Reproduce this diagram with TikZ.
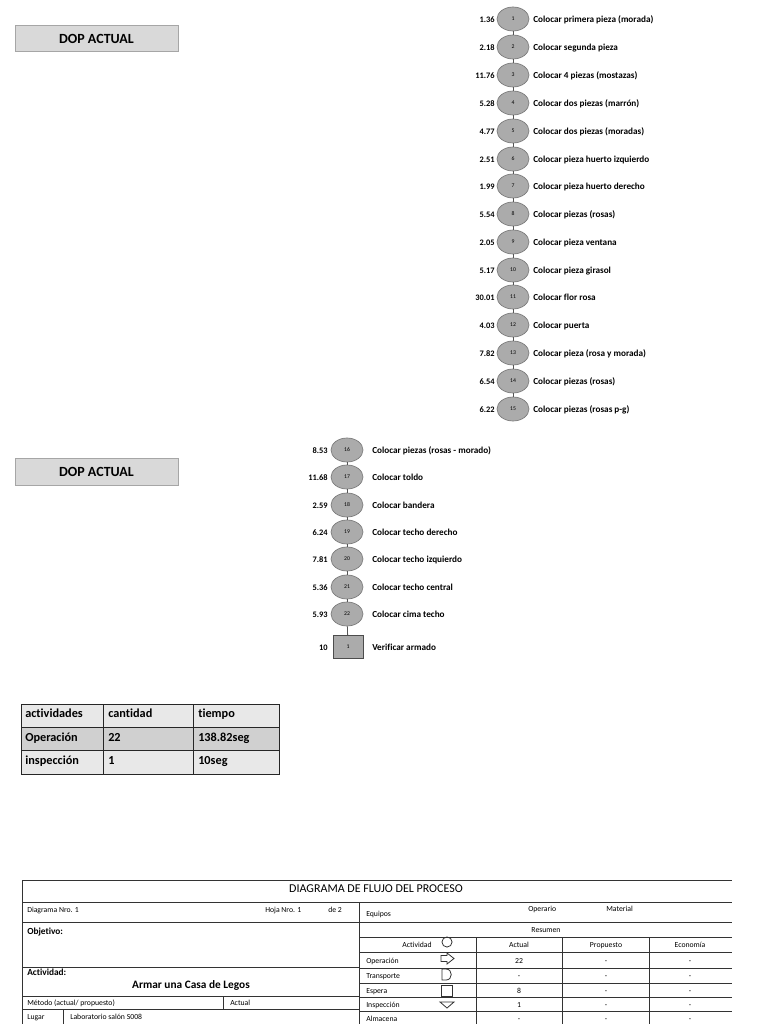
\documentclass[tikz,border=0pt]{standalone}
\usepackage{fontspec}
\setmainfont[Ligatures=NoCommon]{Carlito}
\usetikzlibrary{shapes.geometric}
\definecolor{opfill}{HTML}{ABABAB}
\definecolor{opdraw}{HTML}{7A7A7A}
\definecolor{linegray}{HTML}{555555}
\definecolor{dopfill}{HTML}{D9D9D9}
\definecolor{dopdraw}{HTML}{A6A6A6}
\definecolor{tablight}{HTML}{E8E8E8}
\definecolor{tabdark}{HTML}{D0D0D0}
\tikzset{
  even/.style={text height=0.72em, text depth=0.22em},
  opell/.style={ellipse, draw=opdraw, fill=opfill, line width=0.5pt, minimum width=24pt, minimum height=18pt, inner sep=0pt, font=\fontsize{4.3}{5}\selectfont},
  insbox/.style={rectangle, draw=black!70, fill=opfill, line width=0.6pt, minimum width=22.5pt, minimum height=17.5pt, inner sep=0pt, font=\fontsize{4.3}{5}\selectfont},
  chainline/.style={draw=linegray, line width=0.6pt},
  numlab/.style={anchor=east, inner sep=0pt, even, font=\fontsize{6.3}{7}\selectfont\bfseries},
  steplab/.style={anchor=west, inner sep=0pt, even, font=\fontsize{6.9}{8}\selectfont\bfseries},
  dopbox/.style={rectangle, draw=dopdraw, fill=dopfill, line width=0.5pt, minimum width=122pt, minimum height=20pt, inner sep=0pt, font=\fontsize{10.5}{12}\selectfont\bfseries},
  tabline/.style={draw=black!85, line width=0.7pt},
  tabtxt/.style={anchor=west, inner sep=0pt, even, font=\fontsize{9.2}{11}\selectfont\bfseries},
  formline/.style={draw=black!80, line width=0.5pt},
  ftxt/.style={anchor=west, inner sep=0pt, even, font=\fontsize{5.8}{7}\selectfont},
  fctr/.style={inner sep=0pt, even, font=\fontsize{5.8}{7}\selectfont},
  fbold/.style={anchor=west, inner sep=0pt, even, font=\fontsize{7}{8}\selectfont\bfseries},
  sym/.style={draw=black!80, line width=0.6pt}
}
\begin{document}
\begin{tikzpicture}[x=0.75pt,y=-0.75pt]
\useasboundingbox (0,0) rectangle (768,1024);
\fill[white] (0,0) rectangle (768,1024);

% DOP ACTUAL boxes
\node[dopbox] (dop1) at (96.5,38.5) {DOP ACTUAL};
\node[dopbox] (dop2) at (96.5,471.5) {DOP ACTUAL};

% first chain
\foreach \i/\yy/\d/\t in {
 1/19/1.36/Colocar primera pieza (morada),
 2/47/2.18/Colocar segunda pieza,
 3/75/11.76/Colocar 4 piezas (mostazas),
 4/103/5.28/Colocar dos piezas (marrón),
 5/131/4.77/Colocar dos piezas (moradas),
 6/159/2.51/Colocar pieza huerto izquierdo,
 7/186/1.99/Colocar pieza huerto derecho,
 8/214/5.54/Colocar piezas (rosas),
 9/242/2.05/Colocar pieza ventana,
 10/270/5.17/Colocar pieza girasol,
 11/297/30.01/Colocar flor rosa,
 12/325/4.03/Colocar puerta,
 13/353/7.82/Colocar pieza (rosa y morada),
 14/381/6.54/Colocar piezas (rosas),
 15/409/6.22/Colocar piezas (rosas p-g)}{
  \node[opell] (o\i) at (513,\yy) {\i};
  \node[numlab] (n\i) at (495,\yy) {\d};
  \node[steplab] (t\i) at (533,\yy) {\t};
}
\foreach \i [count=\j from 2] in {1,...,14} \draw[chainline] (o\i) -- (o\j);

% second chain
\foreach \i/\yy/\d/\t in {
 16/450/8.53/Colocar piezas (rosas - morado),
 17/477/11.68/Colocar toldo,
 18/505/2.59/Colocar bandera,
 19/532/6.24/Colocar techo derecho,
 20/559/7.81/Colocar techo izquierdo,
 21/587/5.36/Colocar techo central,
 22/614/5.93/Colocar cima techo}{
  \node[opell] (o\i) at (347,\yy) {\i};
  \node[numlab] (n\i) at (328,\yy) {\d};
  \node[steplab] (t\i) at (372,\yy) {\t};
}
\foreach \i [count=\j from 17] in {16,...,21} \draw[chainline] (o\i) -- (o\j);
\node[insbox] (ins1) at (348,647) {1};
\node[numlab] (nins) at (328,647) {10};
\node[steplab] (tins) at (372,647) {Verificar armado};
\draw[chainline] (o22) -- (ins1);

% summary table
\fill[tablight] (21,704) rectangle (279,727);
\fill[tabdark] (21,727) rectangle (279,750);
\fill[tablight] (21,750) rectangle (279,774);
\draw[tabline] (21,704) rectangle (279,774);
\draw[tabline] (21,727) -- (279,727);
\draw[tabline] (21,750) -- (279,750);
\draw[tabline] (103,704) -- (103,774);
\draw[tabline] (193,704) -- (193,774);
\node[tabtxt] (h1) at (25,714) {actividades};
\node[tabtxt] (h2) at (108,714) {cantidad};
\node[tabtxt] (h3) at (198,714) {tiempo};
\node[tabtxt] (r11) at (25,738) {Operación};
\node[tabtxt] (r12) at (108,738) {22};
\node[tabtxt] (r13) at (198,738) {138.82seg};
\node[tabtxt] (r21) at (25,761) {inspección};
\node[tabtxt] (r22) at (108,761) {1};
\node[tabtxt] (r23) at (198,761) {10seg};

% process flow form
\draw[formline] (22,880) -- (732,880);
\draw[formline] (22,880) -- (22,1024);
\draw[formline] (22,902) -- (732,902);
\draw[formline] (359,902) -- (359,1024);
\draw[formline] (22,922) -- (359,922);
\draw[formline] (22,967) -- (359,967);
\draw[formline] (22,996) -- (359,996);
\draw[formline] (22,1009) -- (359,1009);
\draw[formline] (223,996) -- (223,1009);
\draw[formline] (63,1009) -- (63,1024);
\foreach \yy in {922,937,952,968,983,997,1011} \draw[formline] (359,\yy) -- (732,\yy);
\foreach \xx in {476,562,649} \draw[formline] (\xx,937) -- (\xx,1024);

\node[inner sep=0pt, even, font=\fontsize{9}{11}\selectfont] (title) at (376,889) {DIAGRAMA DE FLUJO DEL PROCESO};
\node[ftxt] (dnro) at (27,909) {Diagrama Nro. 1};
\node[ftxt] (hoja) at (265,909) {Hoja Nro. 1};
\node[ftxt] (de2) at (328,909) {de 2};
\node[ftxt] (equipos) at (366,913) {Equipos};
\node[ftxt] (operario) at (528,908) {Operario};
\node[ftxt] (material) at (606,908) {Material};
\node[fctr] (resumen) at (546,929.5) {Resumen};
\node[fctr] (actv) at (417,944.5) {Actividad};
\node[fctr] (actual) at (519,944.5) {Actual};
\node[fctr] (prop) at (606,944.5) {Propuesto};
\node[fctr] (econ) at (690,944.5) {Economía};
\node[fbold] (obj) at (27,931) {Objetivo:};
\node[fbold] (act) at (27,972) {Actividad:};
\node[inner sep=0pt, even, font=\fontsize{8.5}{10}\selectfont\bfseries] (armar) at (191,985) {Armar una Casa de Legos};
\node[ftxt] (metodo) at (27,1002.5) {Método (actual/ propuesto)};
\node[ftxt] (mact) at (230,1002.5) {Actual};
\node[ftxt] (lugar) at (27,1016.5) {Lugar};
\node[ftxt] (lab) at (70,1016.5) {Laboratorio salón S008};

\foreach \k/\lab/\yy/\va in {1/Operación/960/22, 2/Transporte/975.5/-, 3/Espera/990/8, 4/Inspección/1004.5/1, 5/Almacena/1018/-}{
  \node[ftxt] (row\k) at (366,\yy) {\lab};
  \node[fctr] (va\k) at (519,\yy) {\va};
  \node[fctr] (vp\k) at (606,\yy) {-};
  \node[fctr] (ve\k) at (690,\yy) {-};
}
% symbols
\draw[sym] (447,942) circle [radius=3.8pt];
\draw[sym] (441,955.5) -- (447,955.5) -- (447,953) -- (454,958.5) -- (447,964) -- (447,961.5) -- (441,961.5) -- cycle;
\draw[sym] (442,969) -- (446,969) .. controls (453,969) and (453,980) .. (446,980) -- (442,980) -- cycle;
\draw[sym] (441.5,985) rectangle (452.5,996);
\draw[sym] (440,1002) -- (454,1002) -- (447,1008) -- cycle;
\end{tikzpicture}
\end{document}
